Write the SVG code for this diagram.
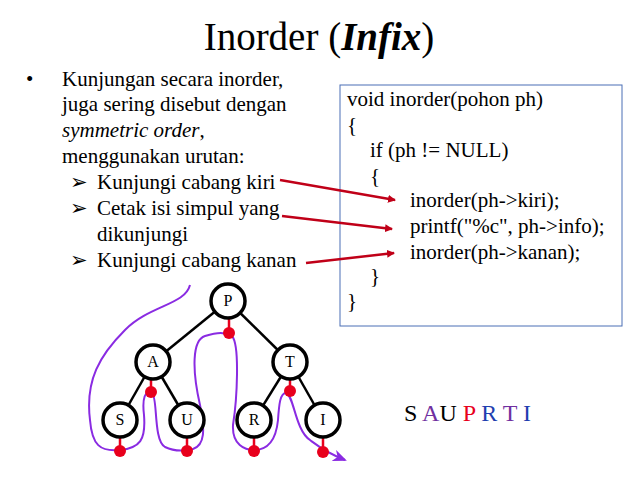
<svg xmlns="http://www.w3.org/2000/svg" width="638" height="478" viewBox="0 0 638 478">
<style>
text{font-family:"Liberation Serif",serif;fill:#000}
.b{font-size:21px}
.n circle{fill:#fff;stroke:#000;stroke-width:3.5}
.n text{font-size:16px;text-anchor:middle}
.e{stroke:#000;stroke-width:2.5}
.d{fill:#e8001c}
.s{stroke:#e8001c;stroke-width:2.5}
</style>
<defs>
<marker id="ra" markerWidth="8" markerHeight="8" refX="7" refY="4" orient="auto" markerUnits="userSpaceOnUse" viewBox="0 0 8 8"><path d="M0,0L8,4L0,8z" fill="#c00018"/></marker>
<marker id="pa" markerWidth="14" markerHeight="12" refX="12" refY="6" orient="auto" markerUnits="userSpaceOnUse"><path d="M0,0L14,6L0,12L4,6z" fill="#8a2be2"/></marker>
</defs>
<text x="319" y="50" font-size="39" text-anchor="middle">Inorder (<tspan font-weight="bold" font-style="italic">Infix</tspan>)</text>
<g id="bullets" class="b">
<text x="26" y="86">•</text>
<text x="62" y="86">Kunjungan secara inorder,</text>
<text x="62" y="111">juga sering disebut dengan</text>
<text x="62" y="137" font-style="italic">symmetric order<tspan font-style="normal">,</tspan></text>
<text x="62" y="163">menggunakan urutan:</text>
<text x="70" y="189">➢</text><text x="97" y="189">Kunjungi cabang kiri</text>
<text x="70" y="215">➢</text><text x="97" y="215">Cetak isi simpul yang</text>
<text x="97" y="241">dikunjungi</text>
<text x="70" y="267">➢</text><text x="97" y="267">Kunjungi cabang kanan</text>
</g>
<g id="code" class="b">
<rect x="340" y="85" width="282" height="241" fill="#fff" stroke="#4a6fb5" stroke-width="1"/>
<text x="347" y="106">void inorder(pohon ph)</text>
<text x="347" y="132">{</text>
<text x="370" y="157">if (ph != NULL)</text>
<text x="370" y="183">{</text>
<text x="410" y="207">inorder(ph-&gt;kiri);</text>
<text x="410" y="233">printf("%c", ph-&gt;info);</text>
<text x="410" y="259">inorder(ph-&gt;kanan);</text>
<text x="370" y="283">}</text>
<text x="347" y="308">}</text>
</g>
<g id="arrows" stroke="#c00018" stroke-width="2.5" fill="none">
<line x1="280" y1="180" x2="395" y2="200" marker-end="url(#ra)"/>
<line x1="282" y1="216" x2="392" y2="229" marker-end="url(#ra)"/>
<line x1="306" y1="263" x2="394" y2="253" marker-end="url(#ra)"/>
</g>
<g id="edges">
<line class="e" x1="228" y1="301" x2="153" y2="362"/>
<line class="e" x1="228" y1="301" x2="290" y2="362"/>
<line class="e" x1="153" y1="362" x2="120" y2="420"/>
<line class="e" x1="153" y1="362" x2="187" y2="420"/>
<line class="e" x1="290" y1="362" x2="254" y2="420"/>
<line class="e" x1="290" y1="362" x2="323" y2="420"/>
<line class="s" x1="229" y1="316" x2="229" y2="332"/>
<line class="s" x1="151" y1="377" x2="151" y2="391"/>
<line class="s" x1="290" y1="377" x2="290" y2="391"/>
<line class="s" x1="120" y1="435" x2="120" y2="451"/>
<line class="s" x1="187" y1="435" x2="187" y2="451"/>
<line class="s" x1="254" y1="435" x2="254" y2="451"/>
<line class="s" x1="323" y1="435" x2="323" y2="452"/>
</g>
<path id="walk" d="M190,285 C185,305 150,305 125,330 C100,355 85,380 90,420 C92,445 100,452 120,450 C140,448 146,440 144,415 C142,398 145,390 152,393 C158,397 153,440 165,447 C175,452 185,451 193,449 C205,445 205,430 200,405 C192,370 192,340 205,336 C218,332 225,332 232,336 C240,345 237,400 233,425 C232,445 245,450 254,450 C268,450 276,440 278,420 C279,405 280,393 286,393 C294,395 295,430 310,440 C318,446 325,452 345,460" fill="none" stroke="#8a2be2" stroke-width="2" marker-end="url(#pa)"/>
<g class="d">
<circle cx="229" cy="333" r="6"/>
<circle cx="151" cy="392" r="6"/>
<circle cx="290" cy="391" r="6"/>
<circle cx="120" cy="451" r="6"/>
<circle cx="187" cy="451" r="6"/>
<circle cx="254" cy="451" r="6"/>
<circle cx="323" cy="452" r="6"/>
</g>
<g id="P" class="n"><circle cx="228" cy="301" r="17"/><text x="228" y="306">P</text></g>
<g id="A" class="n"><circle cx="153" cy="362" r="17"/><text x="153" y="367">A</text></g>
<g id="T" class="n"><circle cx="290" cy="362" r="17"/><text x="290" y="367">T</text></g>
<g id="S" class="n"><circle cx="120" cy="420" r="17"/><text x="120" y="425">S</text></g>
<g id="U" class="n"><circle cx="187" cy="420" r="17"/><text x="187" y="425">U</text></g>
<g id="R" class="n"><circle cx="254" cy="420" r="17"/><text x="254" y="425">R</text></g>
<g id="I" class="n"><circle cx="323" cy="420" r="17"/><text x="323" y="425">I</text></g>
<text x="404" y="421" font-size="24"><tspan>S</tspan> <tspan fill="#7030a0">A</tspan><tspan>U</tspan> <tspan fill="#e8001c">P</tspan>  <tspan fill="#1f3fb0">R</tspan> <tspan fill="#7030a0">T</tspan> <tspan fill="#1f3fb0">I</tspan></text>
</svg>
